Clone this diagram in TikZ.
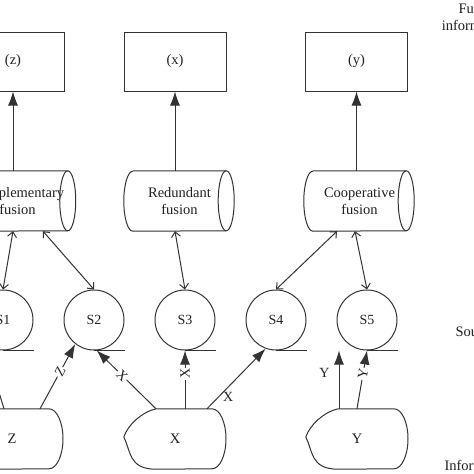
\documentclass[tikz,border=0pt]{standalone}
\usepackage{fontspec}
\setmainfont{Liberation Serif}
\usetikzlibrary{arrows.meta}
\definecolor{ln}{HTML}{333333}
\definecolor{tx}{HTML}{222222}
\begin{document}
\begin{tikzpicture}[x=1pt,y=-1pt,
  every node/.style={text=tx, font=\fontsize{14.5}{17}\selectfont},
  lw/.style={draw=ln, line width=1pt},
  outbox/.style={lw, rectangle, minimum width=102pt, minimum height=59pt},
  cylbody/.style={rectangle, minimum width=93pt, minimum height=60pt, align=center},
  sensor/.style={lw, circle, minimum size=60pt, inner sep=0pt, font=\fontsize{14}{16}\selectfont},
  inbody/.style={rectangle, minimum width=102pt, minimum height=60pt},
  dbl/.style={lw, {Straight Barb[length=5pt,width=9pt]}-{Straight Barb[length=5pt,width=9pt]}},
  feed/.style={lw, -{Latex[length=14pt,width=10pt]}},
  lab/.style={fill=white, inner sep=1pt, font=\fontsize{14}{16}\selectfont},
  side/.style={align=center, font=\fontsize{14.5}{17}\selectfont},
]
\fill[white] (0,0) rectangle (474,474);
\useasboundingbox (0,0) rectangle (474,474);

% output boxes
\node[outbox] (bz) at (13,61.5) {(z)};
\node[outbox] (bx) at (175,61.5) {(x)};
\node[outbox] (by) at (356.5,61.5) {(y)};

% fusion cylinders
\node[cylbody] (c1) at (17.5,201) {Complementary\\fusion};
\node[cylbody] (c2) at (179.5,201) {Redundant\\fusion};
\node[cylbody] (c3) at (359.5,201) {Cooperative\\fusion};
\foreach \c in {c1,c2,c3} {
  \draw[lw] (\c.north west) -- (\c.north east)
    arc[start angle=90,end angle=-90,x radius=8pt,y radius=30pt]
    -- (\c.south west)
    arc[start angle=270,end angle=90,x radius=9pt,y radius=30pt];
  \draw[lw] (\c.north east) arc[start angle=90,end angle=270,x radius=8pt,y radius=30pt];
}

% sensors
\node[sensor] (s1) at (3,320) {S1};
\node[sensor] (s2) at (94,320) {S2};
\node[sensor] (s3) at (185,320) {S3};
\node[sensor] (s4) at (276,320) {S4};
\node[sensor] (s5) at (367,320) {S5};
\foreach \s in {s1,s2,s3,s4,s5} \draw[lw] (\s.south) -- ++(31pt,0pt);

% information inputs
\node[inbody] (iz) at (12,439) {Z};
\node[inbody] (ix) at (175,439) {X};
\node[inbody] (iy) at (357,439) {Y};
\foreach \i in {iz,ix,iy} {
  \draw[lw] ([xshift=-19pt]\i.north) -- ([xshift=37pt]\i.north)
    arc[start angle=90,end angle=-90,x radius=14pt,y radius=30pt]
    -- ([xshift=-19pt]\i.south)
    .. controls +(-28pt,0pt) and +(7pt,-13pt) .. ([yshift=2pt]\i.west)
    .. controls +(4pt,12pt) and +(-14pt,-3pt) .. ([xshift=-19pt]\i.north);
}

% fusion -> output
\draw[feed] (bz.south |- c1.north) -- (bz.south);
\draw[feed] (bx.south |- c2.north) -- (bx.south);
\draw[feed] (by.south |- c3.north) -- (by.south);

% fusion <-> sensors
\draw[dbl] ([xshift=-4.5pt]c1.south) -- (s1.north);
\draw[dbl] ([xshift=25.5pt]c1.south) -- (s2.north);
\draw[dbl] ([xshift=-4.5pt]c2.south) -- (s3.north);
\draw[dbl] ([xshift=-22.5pt]c3.south) -- (s4.north);
\draw[dbl] ([xshift=-4.5pt]c3.south) -- (s5.north);

% inputs -> sensors
\draw[feed] ([xshift=-8pt]iz.north) -- (s1.232);
\draw[feed] ([xshift=28pt]iz.north) -- node[lab, sloped, pos=0.57] {Z} (s2.232);
\draw[feed] ([xshift=-19pt]ix.north) -- node[lab, sloped, pos=0.57] {X} (s2.275);
\draw[feed] (ix.north -| s3.south) -- node[lab, sloped, pos=0.6] {X} (s3.south);
\draw[feed] ([xshift=32pt]ix.north) -- node[lab, pos=0.2, anchor=west, xshift=3pt, fill=none] {X} (s4.250);
\coordinate (y1) at ([xshift=-18pt]iy.north);
\draw[feed] (y1) -- node[lab, pos=0.62, anchor=east, xshift=-8pt, fill=none] {Y} (y1 |- s5.south);
\draw[feed] (iy.north) -- node[lab, sloped, pos=0.6] {Y} (s5.south);

% side labels
\node[side] (lf) at (476,17) {Fused\\information};
\node[side, anchor=west] (ls) at (452,332) {Sources};
\node[side, anchor=west] (li) at (441,465) {Information};
\end{tikzpicture}
\end{document}
